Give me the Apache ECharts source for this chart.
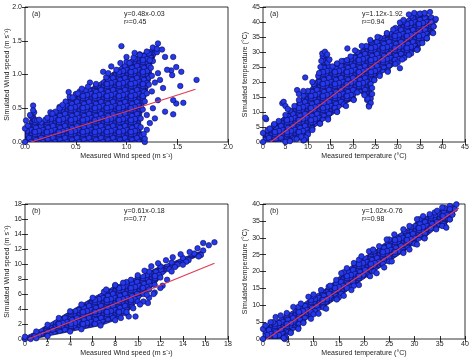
<!DOCTYPE html>
<html><head><meta charset="utf-8">
<script src="https://cdn.jsdelivr.net/npm/echarts@6/dist/echarts.min.js"></script>
<style>html,body{margin:0;padding:0;background:#fff}#c{width:474px;height:363px}</style>
</head><body><div id="c"></div>
<script>
// ---------- data ----------
// Panel (a) wind speed: dense cloud outline, outlier / edge dots, fit line
const windA_poly = [[0,0],[0,0.2],[0.03,0.24],[0.06,0.38],[0.09,0.44],[0.12,0.32],[0.16,0.29],[0.2,0.33],[0.25,0.44],[0.3,0.45],[0.34,0.52],[0.4,0.6],[0.44,0.67],[0.5,0.71],[0.54,0.75],[0.6,0.77],[0.7,0.84],[0.8,0.96],[0.9,1.07],[1.0,1.19],[1.07,1.25],[1.13,1.3],[1.2,1.34],[1.26,1.4],[1.3,1.33],[1.26,1.2],[1.24,1.1],[1.25,0.98],[1.22,0.85],[1.2,0.72],[1.18,0.6],[1.16,0.48],[1.14,0.35],[1.14,0.22],[1.15,0.1],[1.18,0]];
const windA_dots = [[0.01,0.32],[0.08,0.54],[0.08,0.47],[0.05,0.4],[0.14,0.33],[0.22,0.36],[0.27,0.42],[0.34,0.5],[0.37,0.55],[0.43,0.74],[0.47,0.66],[0.52,0.72],[0.56,0.79],[0.64,0.88],[0.62,0.82],[0.7,0.86],[0.77,1.04],[0.82,1.02],[0.85,1.12],[0.94,1.17],[0.95,1.42],[1.0,1.26],[1.03,1.17],[1.08,1.32],[1.13,1.29],[1.23,1.21],[1.3,1.38],[1.31,1.46],[1.35,1.37],[1.38,1.26],[1.46,1.26],[1.44,1.06],[1.49,1.11],[1.54,1.04],[1.45,0.99],[1.4,1.07],[1.31,1.02],[1.33,0.92],[1.36,0.8],[1.53,0.83],[1.69,0.92],[1.56,0.58],[1.49,0.57],[1.46,0.62],[1.46,0.41],[1.38,0.45],[1.31,0.62],[1.26,0.5],[1.28,0.35],[1.23,0.28],[1.2,0.18],[1.18,0.05],[1.25,0.75],[1.28,0.88],[1.2,0.4],[1.17,0.12]];
const windA_fit = [[0.06,0],[1.68,0.78]];
const windA_ticks = [0,0.5,1.0,1.5,2.0];

// Panel (a) temperature
const tempA_poly = [[0,0],[0,3],[1,4],[2.4,5.6],[3.5,7],[5,9],[6,10.5],[7,12],[8,14],[9,15.5],[10,17],[11.3,19.3],[12.3,22],[12.8,25],[13.3,28.5],[14,29],[14.4,26.5],[15.5,25.2],[16.5,26],[18,27],[19.5,28.5],[21,30],[23,32],[24,33.5],[26,34.8],[27.6,36],[29.5,38],[31.3,40.2],[33,42],[34.5,42.5],[36,42.8],[37.5,41.5],[38.3,40.5],[38,38.5],[37.8,36.5],[36.5,34.5],[34.5,31],[33,29.5],[31.5,28],[30,26.5],[27.8,23.8],[26,22.5],[24.8,20.8],[24.3,18],[24,14.5],[23.6,12.2],[23.2,14],[22.6,16],[21,16.5],[20.2,14.2],[18,12.5],[16.5,10.2],[14.5,8],[12.7,6.2],[11,4.5],[10,3],[9.6,1],[9,0.5],[8.2,1.5],[7,1],[6,0.5],[5,0]];
const tempA_dots = [[0.7,7.6],[0.5,8.1],[1.5,4.5],[2.5,6],[4.3,12.9],[4.6,13.4],[5,12],[5.5,11],[7.6,17.3],[8,16],[9.4,21.5],[9,17],[11,20],[12.5,23],[13,27],[13.2,29.5],[13.8,30.1],[14.3,29.2],[14.8,27.5],[16.5,26.2],[17.5,27],[18.7,27.3],[18.8,31.2],[20.5,30.5],[22,32],[23.9,34],[25.5,35],[27.6,36.3],[29,37.5],[30.5,39.8],[31.3,40.7],[32.5,42.5],[33.7,43],[35,42.8],[36,43],[37.2,43.3],[38.5,41],[37.5,40],[38,38.5],[37.9,36.3],[36.5,34.6],[35.5,33],[34.3,30.7],[32.5,29],[30.5,24.6],[31,27.5],[29.5,26],[27.8,23.4],[26,22],[24.8,20.6],[24.3,16],[24,13],[23.6,11.8],[23.3,14.5],[22.6,15.6],[20.2,14],[18.5,12],[16.5,10],[14.5,7.5],[12.7,6.1],[11,4],[10,2.5],[9.5,1.5],[9.1,0.7],[8.5,1.8],[7.5,1],[6,0.3]];
const tempA_fit = [[1.7,0],[37.7,40.3]];
const tempA_ticks = [0,5,10,15,20,25,30,35,40,45];

// Panel (b) wind speed
const windB_poly = [[0,0],[0,0.3],[1,1.0],[2,1.9],[3,2.8],[4,3.7],[5,4.6],[6,5.5],[7,6.3],[8,7.1],[9,7.6],[10,8.3],[11,9],[12,9.7],[13,10.2],[14,10.8],[15,11.4],[15.8,11.8],[15.6,11.2],[14.5,10.5],[13.5,9.9],[12.8,9.3],[12,8.2],[11.5,7.2],[11,6.6],[10.5,6.0],[10,5.0],[9.5,4.3],[9,3.4],[8,2.5],[6.7,1.8],[5,1.3],[4,1.0],[2,0.4],[1,0.1],[0.5,0]];
const windB_dots = [[16.8,12.9],[16.3,12.5],[15.8,12.8],[15.3,12.1],[14.6,11.6],[13.8,11.3],[13.1,10.9],[12.5,10.5],[11.8,10.1],[11.2,9.7],[10.6,9.1],[10,8.5],[9.4,7.9],[8.7,7.5],[8,7.2],[7.2,6.6],[15.4,11.0],[14.3,10.3],[13.3,9.6],[12.6,7.9],[12.2,7.1],[11.5,6.2],[11.0,5.5],[11.4,6.0],[10.8,5.9],[10.5,5.0],[10.2,4.6],[9.6,4.1],[9.8,3.0],[9.2,3.0],[10.9,4.8],[12.0,6.8],[13.0,9.0],[14.0,9.9],[9.0,3.6],[8.5,2.8]];
const windB_fit = [[0.3,0],[16.8,10.1]];
const windB_ticks = [0,2,4,6,8,10,12,14,16,18];

// Panel (b) temperature
const tempB_poly = [[0,0],[0,3],[2,5],[4.7,7.2],[7,9.5],[10,12.7],[13,15.5],[16,19.8],[19,23.5],[22,26],[25,29.5],[28,32],[31,35.5],[34,37.5],[36,38.8],[37.5,39],[38,38.5],[37.5,37],[37,35.5],[36,33.5],[34.3,32.8],[32,30],[30,28.2],[27.8,25.8],[25,23],[22,20],[21,18.9],[18,15.8],[15,12.3],[14.6,12],[12,9.3],[10,7.3],[8,5],[7,3.3],[5.5,2],[4.5,0.5],[4.3,0]];
const tempB_dots = [[0.5,4],[1.5,5],[2.5,6.5],[3.5,7],[4.7,7.7],[6,9.5],[7.5,10.5],[9,12.5],[10,13.2],[11.5,14.5],[13.3,15.8],[14.5,17.5],[15.5,19.5],[16.6,21],[18,22.5],[19.5,24.5],[21,26],[21.8,26.5],[23,27.5],[24.5,29.5],[26,31],[27.8,32.5],[29,33.5],[30.5,35.5],[31.7,36.4],[33,37],[34.5,38],[35.5,39],[37,39.4],[38.3,39.9],[37,38.5],[4.1,0.3],[5.5,1.8],[7,3],[8,4.75],[9.5,6],[11,7.5],[12.5,9],[14.6,11.7],[16,12.8],[17.5,14.5],[19,16],[21.2,18.6],[22.5,19.5],[24,21.2],[25.5,23],[27.8,25.5],[29,26.5],[30.5,28],[32,29.8],[34.3,32.5],[35.5,33.5],[36.3,33],[37,35.4],[37.5,36.8]];
const tempB_fit = [[0.75,0],[38.8,38.8]];
const tempB_ticks = [0,5,10,15,20,25,30,35,40];

const labels = [
  {tag:'(a)', eq:'y=0.48x-0.03', r2:'r\u00b2=0.45'},
  {tag:'(a)', eq:'y=1.12x-1.92', r2:'r\u00b2=0.94'},
  {tag:'(b)', eq:'y=0.61x-0.18', r2:'r\u00b2=0.77'},
  {tag:'(b)', eq:'y=1.02x-0.76', r2:'r\u00b2=0.98'}
];
const windX = 'Measured Wind speed (m s\u207b\u00b9)';
const windY = 'Simulated Wind speed (m s\u207b\u00b9)';
const tempX = 'Measured temperature (\u00b0C)';
const tempY = 'Simulated temperature (\u00b0C)';

// ---------- layout / style ----------
const FONT = 'Liberation Sans';
const TXT = '#222';
const FS = 7;
const grids = [
  {left:25, top:7, width:203, height:135},
  {left:263, top:7, width:202, height:135},
  {left:25, top:204, width:203, height:135},
  {left:263, top:204, width:202, height:135}
];
const panels = [
  {poly:windA_poly, dots:windA_dots, fit:windA_fit, ticks:windA_ticks, xn:windX, yn:windY, dec:1},
  {poly:tempA_poly, dots:tempA_dots, fit:tempA_fit, ticks:tempA_ticks, xn:tempX, yn:tempY, dec:0},
  {poly:windB_poly, dots:windB_dots, fit:windB_fit, ticks:windB_ticks, xn:windX, yn:windY, dec:0},
  {poly:tempB_poly, dots:tempB_dots, fit:tempB_fit, ticks:tempB_ticks, xn:tempX, yn:tempY, dec:0}
];

// texture of overlapping marker circles used to fill the dense cloud
const pat = document.createElement('canvas');
pat.width = 12; pat.height = 12;
(function(){
  const c = pat.getContext('2d');
  c.fillStyle = '#1e30e0'; c.fillRect(0,0,12,12);
  const circ = [[2,2],[8,1],[5,6],[11,6],[0,8],[7,10],[3,11],[10,12],[-1,2],[11,0]];
  c.lineWidth = 0.6; c.strokeStyle = '#0b0b55';
  circ.forEach(([x,y]) => {
    [[0,0],[12,0],[-12,0],[0,12],[0,-12],[12,12],[-12,-12],[12,-12],[-12,12]].forEach(([dx,dy]) => {
      c.beginPath(); c.arc(x+dx, y+dy, 2.8, 0, Math.PI*2);
      c.fillStyle = '#2438ee'; c.fill(); c.stroke();
    });
  });
})();

const xAxis = [], yAxis = [], series = [], graphic = [];
panels.forEach((p, i) => {
  const t = p.ticks, min = t[0], max = t[t.length-1], iv = t[1]-t[0];
  const fmt = v => p.dec ? v.toFixed(1) : String(Math.round(v));
  const tick = {show:true, inside:true, length:3, lineStyle:{color:'#000', width:0.8}};
  const base = {type:'value', gridIndex:i, min, max, interval:iv, splitLine:{show:false}, axisLine:{show:false}, axisTick:tick, nameMoveOverlap:false};
  xAxis.push(Object.assign({}, base, {position:'bottom', name:p.xn, nameLocation:'middle', nameGap:11,
    nameTextStyle:{fontFamily:FONT, fontSize:FS, color:TXT},
    axisLabel:{formatter:fmt, fontFamily:FONT, fontSize:FS, color:TXT, margin:2}}));
  xAxis.push(Object.assign({}, base, {position:'top', axisLabel:{show:false}}));
  yAxis.push(Object.assign({}, base, {position:'left', name:p.yn, nameLocation:'middle', nameGap:14,
    nameTextStyle:{fontFamily:FONT, fontSize:FS, color:TXT},
    axisLabel:{formatter:fmt, fontFamily:FONT, fontSize:FS, color:TXT, margin:3}}));
  yAxis.push(Object.assign({}, base, {position:'right', axisLabel:{show:false}}));
  const xi = 2*i, yi = 2*i;
  series.push({
    type:'custom', xAxisIndex:xi, yAxisIndex:yi, data:p.poly, clip:true, silent:true,
    encode:{x:0, y:1},
    renderItem:(params, api) => {
      if (params.dataIndex !== 0) return null;
      const pts = p.poly.map(q => api.coord(q));
      return {type:'polygon', shape:{points:pts},
        style:{fill:{image:pat, repeat:'repeat'}, stroke:'#0c0c5c', lineWidth:0.8}};
    }
  });
  series.push({
    type:'scatter', xAxisIndex:xi, yAxisIndex:yi, data:p.poly.concat(p.dots), symbolSize:5.5, clip:true,
    itemStyle:{color:'#2438ee', borderColor:'#0c0c50', borderWidth:0.6, opacity:1}
  });
  series.push({
    type:'line', xAxisIndex:xi, yAxisIndex:yi, data:p.fit, symbol:'none',
    lineStyle:{color:'#e03a52', width:1.1}
  });
  const g = grids[i];
  const f = FS + 'px "' + FONT + '"';
  graphic.push({type:'text', left:g.left+7, top:g.top+3.5, style:{text:labels[i].tag, font:f, fill:TXT}});
  graphic.push({type:'text', left:g.left+99, top:g.top+3.5, style:{text:labels[i].eq, font:f, fill:TXT}});
  graphic.push({type:'text', left:g.left+99, top:g.top+12, style:{text:labels[i].r2, font:f, fill:TXT}});
});

const chart = echarts.init(document.getElementById('c'), null, {renderer:'canvas'});
chart.setOption({
  animation:false,
  backgroundColor:'#fff',
  grid: grids.map(g => Object.assign({show:true, borderColor:'#000', borderWidth:0.8, backgroundColor:'transparent'}, g)),
  xAxis, yAxis, series, graphic
});
</script>
</body></html>
